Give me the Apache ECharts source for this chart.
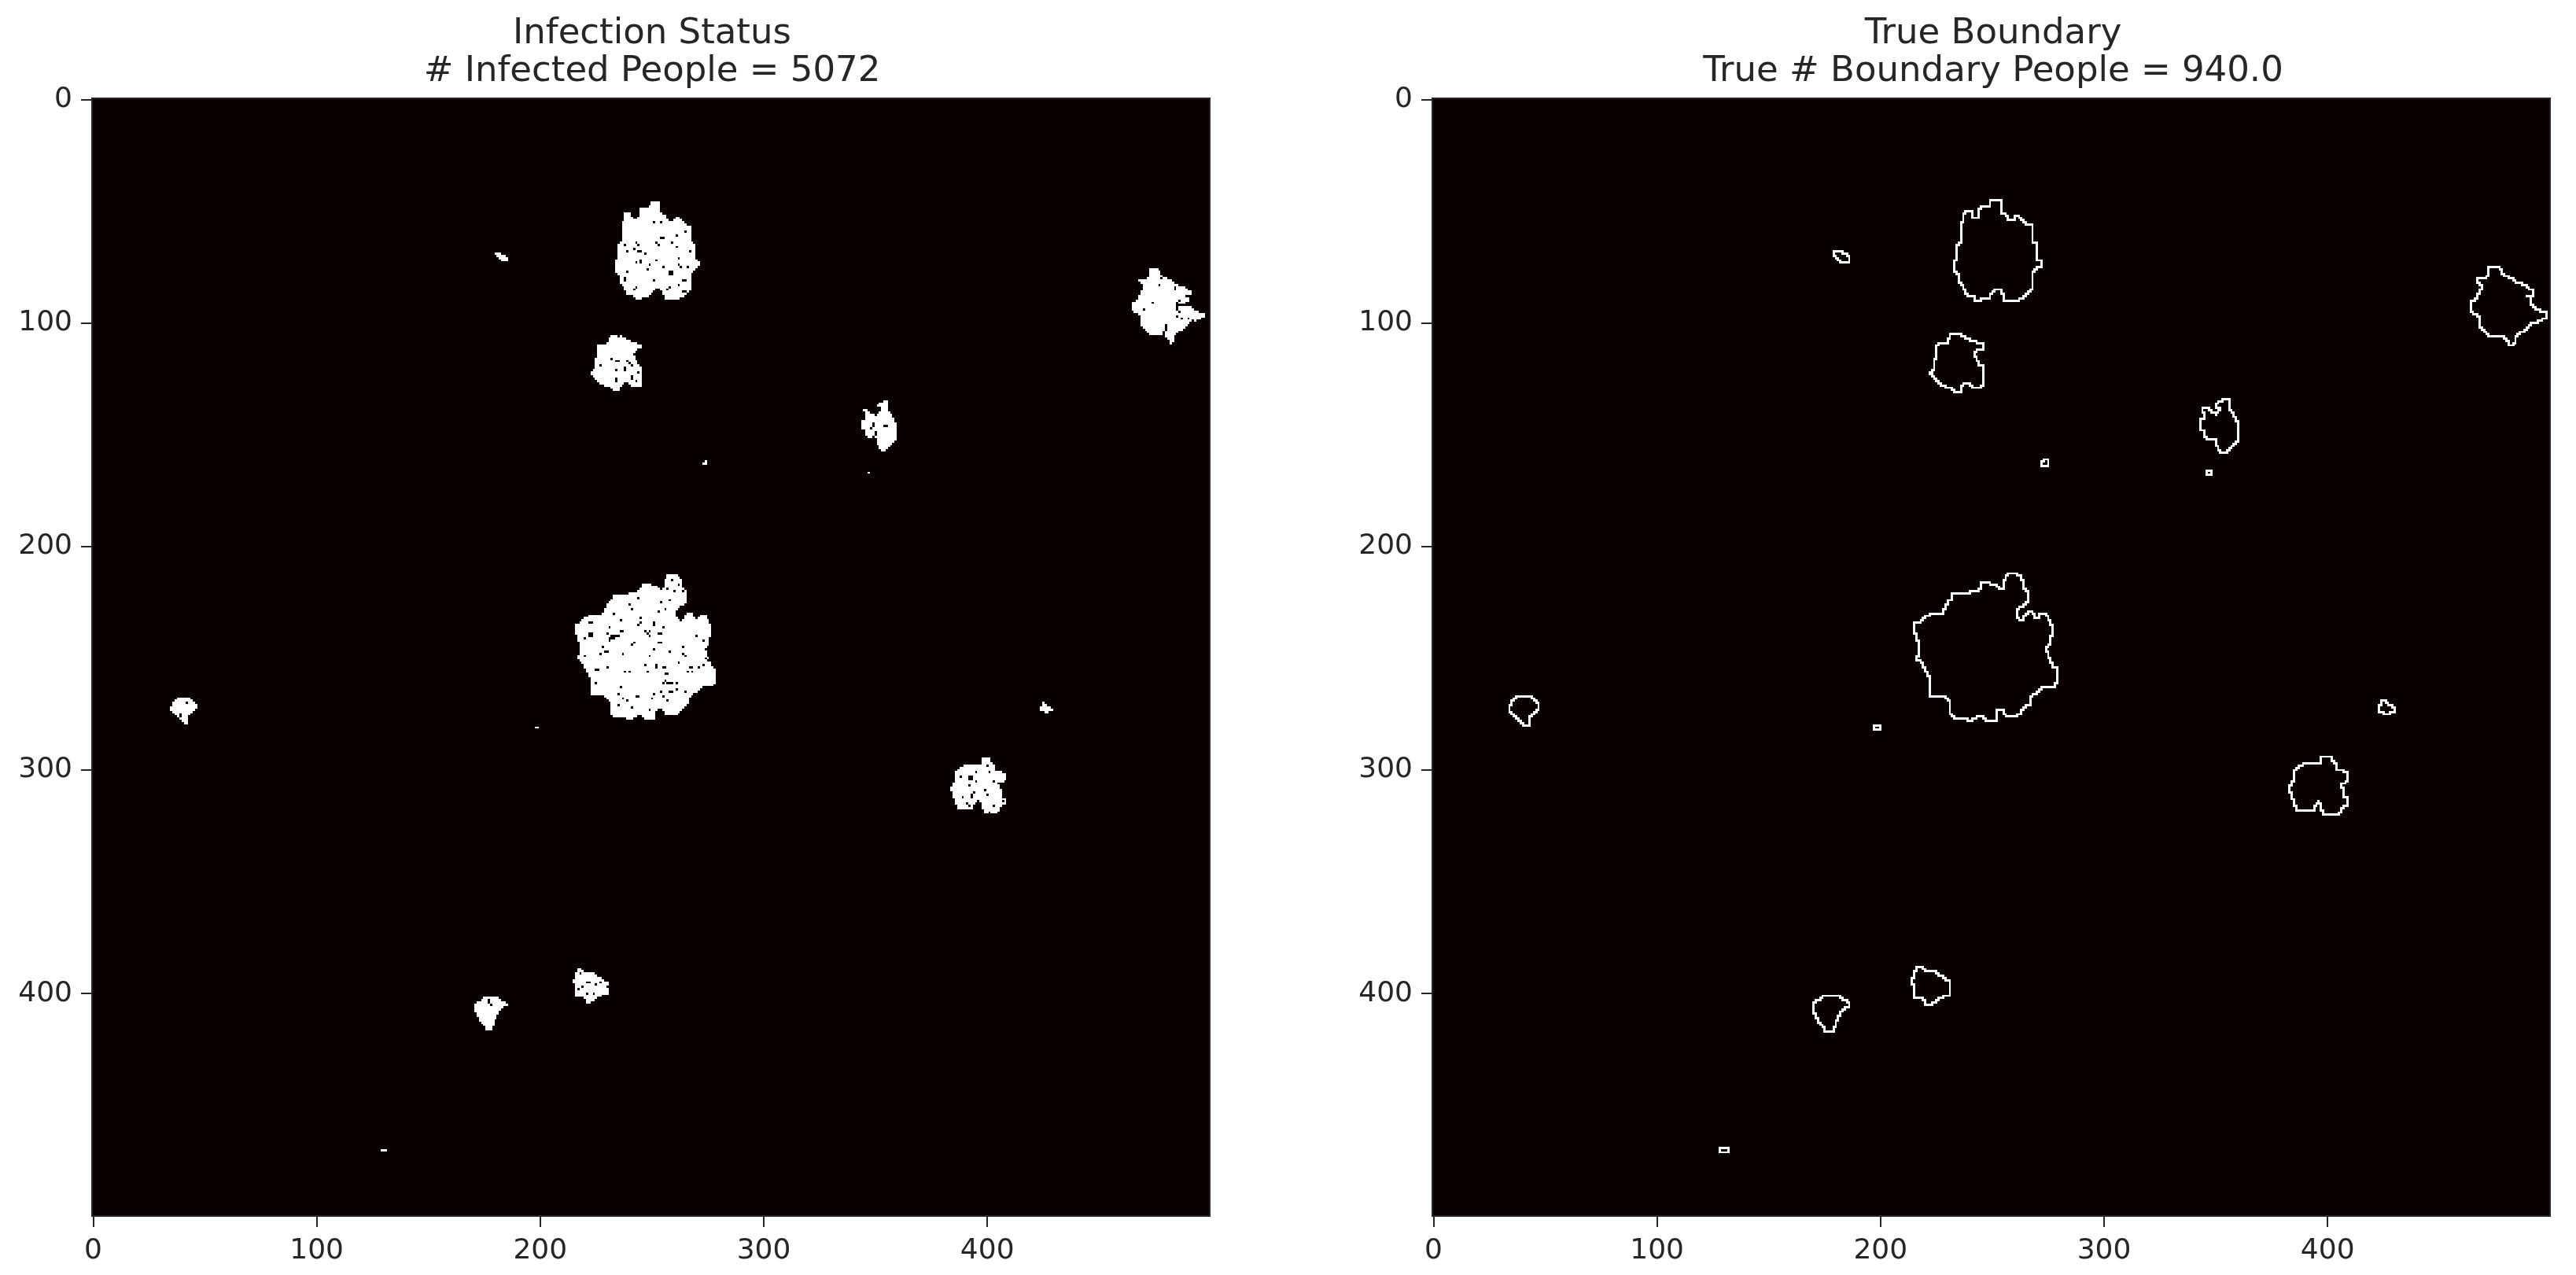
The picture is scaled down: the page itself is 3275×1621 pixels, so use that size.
<!DOCTYPE html>
<html><head><meta charset="utf-8">
<script src="https://cdn.jsdelivr.net/npm/echarts@6/dist/echarts.min.js"></script>
<style>html,body{margin:0;padding:0;background:#fff}#c{width:3275px;height:1621px;filter:blur(0.7px)}</style>
</head><body><div id="c"></div>
<script>
const tickLabels = [0,100,200,300,400];
const leftTitle = "Infection Status\n# Infected People = 5072";
const rightTitle = "True Boundary\nTrue # Boundary People = 940.0";

// Clusters: outline cells included. [rowFrom,rowTo,colFrom,colTo]
const clusterTop = [[45,47,249,254],[48,48,245,254],[49,49,244,254],[50,50,238,241],[50,50,244,254],[51,51,237,241],[51,51,244,256],[52,52,237,241],[52,52,244,257],[52,52,260,262],[53,53,237,257],[53,53,260,263],[54,54,237,264],[55,55,236,265],[56,63,236,268],[64,64,235,270],[65,71,234,270],[72,75,233,272],[76,76,233,270],[77,77,233,269],[78,78,234,268],[79,82,235,268],[83,83,236,268],[84,85,237,268],[86,86,238,251],[86,86,254,267],[87,87,238,250],[87,87,254,266],[88,88,239,249],[88,88,255,265],[89,89,242,249],[89,89,255,264],[90,90,242,245],[90,90,255,262]];
const clusterSecond = [[105,105,231,236],[106,106,231,238],[107,107,230,240],[108,108,230,243],[109,109,226,246],[110,112,225,246],[113,113,225,243],[114,114,225,242],[115,115,225,243],[116,116,224,243],[117,118,224,244],[119,120,224,246],[121,121,223,246],[122,123,222,246],[124,124,223,246],[125,125,224,246],[126,126,225,246],[127,127,226,246],[128,128,227,237],[128,128,240,246],[129,129,229,236],[129,129,241,245],[130,130,232,236],[131,131,233,236]];
const clusterBig = [[212,212,257,261],[213,214,256,263],[215,215,255,264],[216,216,245,249],[216,216,255,264],[217,217,245,252],[217,217,255,264],[218,218,245,253],[218,218,255,264],[219,219,244,265],[220,220,240,266],[221,223,232,266],[224,225,230,266],[226,226,229,265],[227,227,229,264],[228,228,228,262],[229,229,228,261],[229,229,266,268],[230,230,222,261],[230,230,265,269],[230,230,271,274],[231,231,220,261],[231,231,264,269],[231,231,271,275],[232,232,219,262],[232,232,264,275],[233,233,218,276],[234,234,215,276],[235,239,215,277],[240,240,216,277],[241,242,216,276],[243,244,217,276],[245,245,217,275],[246,246,217,274],[247,248,217,275],[249,249,216,275],[250,251,216,276],[252,252,218,277],[253,253,219,277],[254,254,219,279],[255,256,220,279],[257,258,221,279],[259,261,222,279],[262,263,222,278],[264,264,222,272],[265,265,222,271],[266,266,222,270],[267,267,222,268],[268,268,229,267],[269,269,230,267],[270,271,231,267],[272,272,231,265],[273,273,231,264],[274,275,231,252],[274,275,255,263],[276,276,232,252],[276,276,256,261],[277,277,233,243],[277,277,246,252],[278,278,239,241],[278,278,247,252]];

// Clusters: infected cells only.
const clusterMid = [[135,135,354,355],[136,136,352,355],[137,137,351,355],[138,138,353,355],[139,139,345,346],[139,139,353,355],[140,140,346,347],[140,140,352,356],[141,141,346,349],[141,141,351,357],[142,142,346,357],[143,143,346,358],[144,144,344,358],[145,147,344,359],[148,150,346,359],[151,151,347,359],[152,152,351,359],[153,153,351,358],[154,154,351,357],[155,155,352,356],[156,156,352,355],[157,157,353,354]];
const clusterRight = [[76,76,473,476],[77,78,473,477],[79,79,473,478],[80,80,472,480],[81,81,468,482],[82,82,469,483],[83,83,470,486],[84,84,470,488],[85,85,470,489],[86,87,469,491],[88,88,468,488],[89,89,468,490],[90,90,467,490],[91,92,465,490],[93,93,465,491],[94,94,465,492],[95,95,466,494],[96,96,468,497],[97,97,469,497],[98,98,469,495],[99,99,469,493],[100,100,469,490],[101,101,469,489],[102,102,470,488],[103,103,471,487],[104,104,472,485],[105,105,473,484],[106,106,480,483],[107,107,481,483],[108,108,482,483],[109,109,482,482]];
const clusterLower = [[295,296,398,401],[297,297,398,402],[298,298,390,403],[299,299,388,403],[300,300,387,403],[301,301,386,406],[302,304,386,408],[305,305,386,407],[306,307,385,405],[308,308,384,405],[309,309,384,406],[310,312,385,406],[313,313,386,408],[314,314,386,395],[314,314,397,408],[315,315,386,394],[315,315,398,408],[316,316,387,393],[316,316,398,406],[317,317,387,393],[317,317,398,405],[318,318,399,405],[319,319,399,404]];
const clusterSouthA = [[402,402,175,181],[403,403,174,182],[404,404,172,184],[405,405,171,185],[406,406,171,183],[407,407,171,182],[408,408,171,181],[409,409,172,181],[410,410,172,180],[411,411,173,180],[412,412,173,179],[413,413,174,179],[414,414,175,179],[415,416,176,178]];
const clusterSouthB = [[389,389,217,218],[390,390,217,219],[391,391,216,224],[392,392,216,225],[393,393,216,227],[394,394,215,228],[395,395,215,230],[396,400,216,230],[401,401,216,227],[402,402,220,225],[403,403,221,224],[404,404,221,222]];
const clusterWest = [[268,268,38,43],[269,269,37,44],[270,270,36,45],[271,271,36,46],[272,272,35,46],[273,273,35,45],[274,274,36,44],[275,275,37,43],[276,276,38,42],[277,277,39,42],[278,278,40,42],[279,279,41,42]];
const clusterSmallA = [[69,69,180,182],[70,70,181,184],[71,71,182,185],[72,72,183,185]];
const clusterSmallB = [[270,270,425,425],[271,271,425,426],[272,272,424,428],[273,273,424,429],[274,274,426,427]];
const clusterSmallC = [[470,470,129,131]];
const clusterSmallD = [[162,162,274,274],[163,163,273,274]];
const clusterSmallE = [[167,167,347,347]];
const clusterSmallF = [[281,281,198,199]];

// Uninfected cells inside the clusters, [col,row]
const holesTop = [[251,55],[254,55],[265,59],[261,61],[254,62],[255,62],[243,64],[244,65],[252,64],[253,65],[259,64],[261,66],[238,65],[239,68],[242,67],[244,68],[245,68],[247,69],[267,68],[262,71],[252,72],[245,72],[245,73],[243,73],[249,74],[248,76],[255,75],[262,74],[263,75],[266,75],[258,77],[259,77],[258,78],[259,78],[239,77],[238,80],[238,81],[251,81],[243,84],[242,85],[258,84],[257,85],[262,83],[264,81],[265,81],[264,86],[265,86]];
const holesSecond = [[232,116],[234,117],[235,117],[239,117],[240,118],[227,119],[241,119],[238,120],[238,121],[234,121],[244,122],[234,125],[234,126],[241,124],[241,125],[243,126],[235,106]];
const holesBig = [[259,215],[260,220],[262,217],[264,220],[257,219],[244,223],[240,226],[241,228],[254,225],[258,224],[256,228],[253,229],[233,230],[236,233],[245,232],[245,234],[244,235],[251,234],[251,235],[255,236],[222,234],[223,234],[231,236],[236,238],[237,238],[247,238],[249,238],[248,239],[249,240],[253,239],[254,239],[222,239],[223,239],[222,240],[223,240],[230,239],[232,240],[233,240],[234,240],[235,240],[231,241],[232,241],[233,241],[231,242],[220,241],[270,240],[273,242],[242,243],[241,244],[253,243],[254,243],[264,245],[228,245],[229,247],[230,247],[227,248],[237,248],[251,246],[258,247],[264,248],[265,249],[249,249],[220,249],[274,250],[275,251],[273,253],[262,252],[247,253],[252,253],[252,254],[255,254],[256,254],[267,254],[268,254],[271,254],[230,254],[226,255],[225,255],[238,256],[240,256],[248,256],[256,257],[257,257],[266,256],[268,256],[256,260],[255,261],[257,261],[258,261],[259,261],[261,261],[225,261],[236,263],[261,264],[254,265],[258,265],[259,265],[265,265],[235,266],[243,267],[244,267],[251,266],[255,267],[237,268],[239,269],[250,268],[257,269],[235,271],[241,272],[249,273]];
const holesMid = [[349,145],[349,146],[348,147],[350,149],[350,150],[349,151],[354,146],[355,146]];
const holesRight = [[478,80],[477,83],[486,83],[484,84],[484,85],[474,91],[470,94],[486,90],[485,91],[489,91],[490,91],[485,92],[486,92],[487,92],[488,92],[489,92],[490,92],[485,93],[485,94],[486,95],[485,97],[487,98],[490,98],[492,99],[480,101],[480,102],[480,103],[479,104],[479,105]];
const holesLower = [[400,298],[395,301],[401,301],[388,303],[392,303],[393,303],[392,304],[393,304],[395,305],[403,305],[405,306],[392,307],[399,309],[394,310],[393,311],[393,312],[400,311],[389,312],[391,315],[392,316],[403,316],[401,319],[407,314]];
const holesSouthA = [[177,403],[177,404],[178,405]];
const holesSouthB = [[218,391],[221,395],[222,395],[219,397],[225,396],[227,395],[221,400],[224,400],[217,398],[230,397]];
const holesWest = [[42,270],[39,275],[39,276]];

const outlineClusters = [clusterTop, clusterSecond, clusterBig];
const fillClusters = [clusterMid, clusterRight, clusterLower, clusterSouthA, clusterSouthB, clusterWest, clusterSmallA, clusterSmallB, clusterSmallC, clusterSmallD, clusterSmallE, clusterSmallF];
const allHoles = [holesTop, holesSecond, holesBig, holesMid, holesRight, holesLower, holesSouthA, holesSouthB, holesWest];

const key = (c, r) => r * 500 + c;
const around = [[-1,-1],[0,-1],[1,-1],[-1,0],[1,0],[-1,1],[0,1],[1,1]];
const sides = [[0,-1],[-1,0],[1,0],[0,1]];
function cellsOf(spans){ const s = new Set(); for (const [r0,r1,c0,c1] of spans) for (let r=r0;r<=r1;r++) for (let c=c0;c<=c1;c++) s.add(key(c,r)); return s; }
const infected = new Set(), boundary = new Set();
for (const spans of outlineClusters){
  const region = cellsOf(spans);
  for (const k of region){
    const c = k % 500, r = Math.floor(k / 500);
    if (sides.every(([dx,dy]) => region.has(key(c+dx,r+dy)))) infected.add(k);
    if (!around.every(([dx,dy]) => region.has(key(c+dx,r+dy)))) boundary.add(k);
  }
}
for (const spans of fillClusters){
  const region = cellsOf(spans);
  for (const k of region){
    infected.add(k);
    const c = k % 500, r = Math.floor(k / 500);
    for (const [dx,dy] of around){ const n = key(c+dx,r+dy); if (!region.has(n)) boundary.add(n); }
  }
}
for (const list of allHoles) for (const [c,r] of list) infected.delete(key(c,r));

// Merge cells into horizontal runs: [colStart,row,colEnd]
function runsOf(set){
  const sorted = [...set].sort((a,b)=>a-b), out = [];
  let cur = null;
  for (const k of sorted){
    const c = k % 500, r = Math.floor(k / 500);
    if (cur && cur[1] === r && cur[2] === c-1) cur[2] = c;
    else { cur = [c,r,c]; out.push(cur); }
  }
  return out;
}

const cats = Array.from({length:500}, (_,i)=>String(i));
const onTick = i => tickLabels.includes(Number(i));
const ink = '#262626', bg = '#0b0000';
const fontFamily = '"DejaVu Sans"';

function xAxis(g){ return { gridIndex:g, type:'category', data:cats, position:'bottom',
  axisLine:{show:true,lineStyle:{color:ink,width:2}},
  axisTick:{show:true,alignWithLabel:true,interval:onTick,length:14,lineStyle:{color:ink,width:2}},
  axisLabel:{interval:onTick,color:ink,fontFamily,fontSize:36,margin:27}, splitLine:{show:false} }; }
function yAxis(g){ return { gridIndex:g, type:'category', data:cats, inverse:true, position:'left',
  axisLine:{show:true,lineStyle:{color:ink,width:2}},
  axisTick:{show:true,alignWithLabel:true,interval:onTick,length:14,lineStyle:{color:ink,width:2}},
  axisLabel:{interval:onTick,color:ink,fontFamily,fontSize:36,margin:25,align:'right',alignMinLabel:'right',padding:[14,0,0,0]}, splitLine:{show:false} }; }

function renderRun(params, api){
  const bw = api.size([1,0])[0], bh = api.size([0,1])[1];
  const a = api.coord([api.value(0), api.value(1)]);
  const b = api.coord([api.value(2), api.value(1)]);
  const x0 = Math.round(a[0]-bw/2), x1 = Math.round(b[0]+bw/2), y0 = Math.round(a[1]-bh/2), y1 = Math.round(a[1]+bh/2);
  return { type:'rect', shape:{x:x0,y:y0,width:x1-x0,height:y1-y0}, style:{fill:'#ffffff'}, silent:true };
}
function series(g, data){ return { type:'custom', xAxisIndex:g, yAxisIndex:g, data, renderItem:renderRun,
  encode:{x:0,y:1}, animation:false, silent:true, progressive:0, clip:true }; }

const chart = echarts.init(document.getElementById('c'), null, {renderer:'canvas', width:3275, height:1621});
chart.setOption({
  backgroundColor:'#ffffff', animation:false,
  title:[
    {text:leftTitle, left:824, top:14, textAlign:'center', textStyle:{color:ink,fontFamily,fontSize:45,fontWeight:'normal',lineHeight:48}},
    {text:rightTitle, left:2529, top:14, textAlign:'center', textStyle:{color:ink,fontFamily,fontSize:45,fontWeight:'normal',lineHeight:48}}
  ],
  grid:[
    {left:117, top:125, width:1421, height:1421, show:true, backgroundColor:bg, borderColor:ink, borderWidth:2},
    {left:1821, top:125, width:1421, height:1421, show:true, backgroundColor:bg, borderColor:ink, borderWidth:2}
  ],
  xAxis:[xAxis(0),xAxis(1)], yAxis:[yAxis(0),yAxis(1)],
  series:[series(0,runsOf(infected)),series(1,runsOf(boundary))]
});
</script></body></html>
